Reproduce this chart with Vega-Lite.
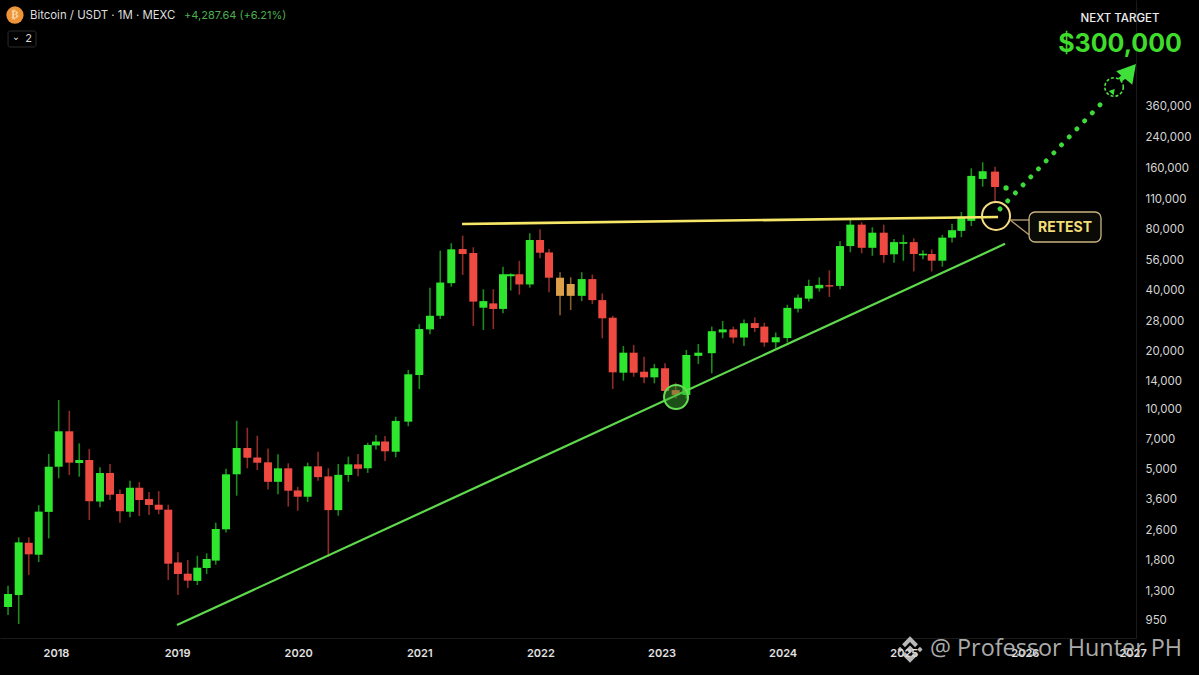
{
  "$schema": "https://vega.github.io/schema/vega-lite/v6.json",
  "width": 1136,
  "height": 638,
  "padding": {"left": 0, "top": 0, "right": 63, "bottom": 37},
  "autosize": "none",
  "background": "#000000",
  "view": {"stroke": null},
  "config": {"text": {"font": "Inter"}, "axis": {"labelFont": "Inter"}},
  "datasets": {
    "candles": [
      {"t":2017.604,"o":1083,"h":1361,"l":992,"c":1245,"dir":"up"},
      {"t":2017.692,"o":1231,"h":2347,"l":900,"c":2207,"dir":"up"},
      {"t":2017.775,"o":2196,"h":2347,"l":1522,"c":1906,"dir":"down"},
      {"t":2017.857,"o":1897,"h":3339,"l":1742,"c":3120,"dir":"up"},
      {"t":2017.940,"o":3112,"h":5855,"l":2318,"c":5073,"dir":"up"},
      {"t":2018.022,"o":5073,"h":11000,"l":4467,"c":7581,"dir":"up"},
      {"t":2018.110,"o":7581,"h":9678,"l":4630,"c":5309,"dir":"down"},
      {"t":2018.192,"o":5290,"h":6597,"l":4544,"c":5470,"dir":"up"},
      {"t":2018.275,"o":5470,"h":6190,"l":2860,"c":3481,"dir":"down"},
      {"t":2018.363,"o":3470,"h":5040,"l":3268,"c":4733,"dir":"up"},
      {"t":2018.446,"o":4733,"h":5230,"l":3526,"c":3732,"dir":"down"},
      {"t":2018.528,"o":3763,"h":3956,"l":2777,"c":3133,"dir":"down"},
      {"t":2018.611,"o":3120,"h":4349,"l":2941,"c":4028,"dir":"up"},
      {"t":2018.688,"o":4028,"h":4284,"l":2980,"c":3526,"dir":"down"},
      {"t":2018.768,"o":3560,"h":3845,"l":3010,"c":3346,"dir":"down"},
      {"t":2018.848,"o":3354,"h":3884,"l":3034,"c":3185,"dir":"down"},
      {"t":2018.927,"o":3185,"h":3354,"l":1444,"c":1714,"dir":"down"},
      {"t":2019.007,"o":1736,"h":1953,"l":1231,"c":1538,"dir":"down"},
      {"t":2019.088,"o":1543,"h":1780,"l":1327,"c":1434,"dir":"down"},
      {"t":2019.167,"o":1430,"h":1874,"l":1370,"c":1643,"dir":"up"},
      {"t":2019.244,"o":1638,"h":1930,"l":1538,"c":1800,"dir":"up"},
      {"t":2019.319,"o":1770,"h":2777,"l":1695,"c":2600,"dir":"up"},
      {"t":2019.404,"o":2590,"h":4960,"l":2494,"c":4666,"dir":"up"},
      {"t":2019.492,"o":4666,"h":8596,"l":3692,"c":6260,"dir":"up"},
      {"t":2019.580,"o":6260,"h":7910,"l":4983,"c":5610,"dir":"down"},
      {"t":2019.662,"o":5630,"h":7190,"l":4890,"c":5309,"dir":"down"},
      {"t":2019.751,"o":5330,"h":6230,"l":3956,"c":4298,"dir":"down"},
      {"t":2019.833,"o":4298,"h":5830,"l":3750,"c":4983,"dir":"up"},
      {"t":2019.918,"o":4983,"h":5270,"l":3290,"c":3899,"dir":"down"},
      {"t":2019.996,"o":3910,"h":4070,"l":3150,"c":3650,"dir":"down"},
      {"t":2020.078,"o":3650,"h":5309,"l":3450,"c":5095,"dir":"up"},
      {"t":2020.164,"o":5095,"h":6000,"l":4349,"c":4525,"dir":"down"},
      {"t":2020.249,"o":4560,"h":4983,"l":1850,"c":3170,"dir":"down"},
      {"t":2020.331,"o":3170,"h":5230,"l":2990,"c":4640,"dir":"up"},
      {"t":2020.414,"o":4630,"h":5680,"l":4298,"c":5210,"dir":"up"},
      {"t":2020.494,"o":5210,"h":5855,"l":4570,"c":4960,"dir":"down"},
      {"t":2020.574,"o":4983,"h":6640,"l":4740,"c":6470,"dir":"up"},
      {"t":2020.642,"o":6440,"h":7250,"l":6160,"c":6730,"dir":"up"},
      {"t":2020.717,"o":6730,"h":7170,"l":5410,"c":6030,"dir":"down"},
      {"t":2020.805,"o":6000,"h":9015,"l":5640,"c":8575,"dir":"up"},
      {"t":2020.909,"o":8500,"h":15780,"l":8050,"c":14980,"dir":"up"},
      {"t":2021.000,"o":14850,"h":26700,"l":12570,"c":25300,"dir":"up"},
      {"t":2021.088,"o":25200,"h":40600,"l":23860,"c":29400,"dir":"up"},
      {"t":2021.173,"o":29400,"h":61600,"l":28320,"c":43000,"dir":"up"},
      {"t":2021.264,"o":42700,"h":67100,"l":41030,"c":62600,"dir":"up"},
      {"t":2021.358,"o":62800,"h":73200,"l":46840,"c":59300,"dir":"down"},
      {"t":2021.446,"o":60000,"h":64100,"l":26200,"c":34600,"dir":"down"},
      {"t":2021.529,"o":32260,"h":39900,"l":25040,"c":34800,"dir":"up"},
      {"t":2021.611,"o":33900,"h":39900,"l":25300,"c":31800,"dir":"down"},
      {"t":2021.691,"o":31800,"h":51400,"l":30260,"c":47200,"dir":"up"},
      {"t":2021.755,"o":46100,"h":47700,"l":39300,"c":47200,"dir":"up"},
      {"t":2021.826,"o":47200,"h":54800,"l":37500,"c":42100,"dir":"down"},
      {"t":2021.912,"o":42100,"h":75300,"l":40600,"c":69700,"dir":"up"},
      {"t":2021.997,"o":69700,"h":78900,"l":56450,"c":60200,"dir":"down"},
      {"t":2022.071,"o":60400,"h":62800,"l":38500,"c":45400,"dir":"down"},
      {"t":2022.162,"o":45400,"h":48300,"l":29600,"c":36970,"dir":"mixed"},
      {"t":2022.250,"o":42300,"h":45600,"l":31400,"c":36970,"dir":"mixed"},
      {"t":2022.341,"o":36970,"h":48300,"l":34800,"c":44700,"dir":"up"},
      {"t":2022.429,"o":44700,"h":47000,"l":33600,"c":35200,"dir":"down"},
      {"t":2022.511,"o":35200,"h":38000,"l":22800,"c":28550,"dir":"down"},
      {"t":2022.597,"o":28750,"h":29400,"l":12570,"c":15340,"dir":"down"},
      {"t":2022.685,"o":15270,"h":20920,"l":13880,"c":19370,"dir":"up"},
      {"t":2022.770,"o":19370,"h":21150,"l":14560,"c":15270,"dir":"down"},
      {"t":2022.856,"o":15450,"h":18470,"l":13450,"c":14450,"dir":"down"},
      {"t":2022.941,"o":14450,"h":16950,"l":13450,"c":16100,"dir":"up"},
      {"t":2023.029,"o":16100,"h":17100,"l":11900,"c":12270,"dir":"down"},
      {"t":2023.117,"o":12400,"h":13550,"l":11200,"c":11700,"dir":"down"},
      {"t":2023.205,"o":11700,"h":20000,"l":11200,"c":18850,"dir":"up"},
      {"t":2023.304,"o":18650,"h":21400,"l":16950,"c":19370,"dir":"up"},
      {"t":2023.415,"o":19250,"h":26000,"l":15150,"c":24700,"dir":"up"},
      {"t":2023.505,"o":24370,"h":27700,"l":22800,"c":25200,"dir":"up"},
      {"t":2023.593,"o":25200,"h":26000,"l":21550,"c":23000,"dir":"down"},
      {"t":2023.681,"o":23000,"h":28200,"l":20920,"c":27000,"dir":"up"},
      {"t":2023.770,"o":27050,"h":28850,"l":24450,"c":25600,"dir":"down"},
      {"t":2023.849,"o":26000,"h":27150,"l":20750,"c":21750,"dir":"down"},
      {"t":2023.943,"o":21800,"h":24350,"l":20400,"c":23070,"dir":"up"},
      {"t":2024.039,"o":22870,"h":33350,"l":21750,"c":32200,"dir":"up"},
      {"t":2024.127,"o":31900,"h":37500,"l":30500,"c":36200,"dir":"up"},
      {"t":2024.216,"o":35800,"h":44400,"l":34600,"c":41400,"dir":"up"},
      {"t":2024.303,"o":40300,"h":45600,"l":38800,"c":41900,"dir":"up"},
      {"t":2024.386,"o":41750,"h":49300,"l":36500,"c":41100,"dir":"down"},
      {"t":2024.474,"o":41400,"h":68900,"l":39900,"c":65000,"dir":"up"},
      {"t":2024.559,"o":65000,"h":87800,"l":60500,"c":82900,"dir":"up"},
      {"t":2024.653,"o":82900,"h":85000,"l":59800,"c":63700,"dir":"down"},
      {"t":2024.741,"o":63700,"h":80600,"l":58100,"c":75800,"dir":"up"},
      {"t":2024.835,"o":75800,"h":82900,"l":53700,"c":58600,"dir":"down"},
      {"t":2024.920,"o":59100,"h":70500,"l":53700,"c":68000,"dir":"up"},
      {"t":2024.997,"o":66700,"h":74000,"l":54900,"c":68000,"dir":"up"},
      {"t":2025.083,"o":68000,"h":71100,"l":48700,"c":59300,"dir":"down"},
      {"t":2025.159,"o":58400,"h":62000,"l":55800,"c":59500,"dir":"up"},
      {"t":2025.231,"o":59300,"h":62500,"l":48700,"c":54950,"dir":"down"},
      {"t":2025.319,"o":54950,"h":74000,"l":51400,"c":71600,"dir":"up"},
      {"t":2025.399,"o":71600,"h":83600,"l":67800,"c":78000,"dir":"up"},
      {"t":2025.476,"o":77400,"h":94800,"l":72000,"c":89300,"dir":"up"},
      {"t":2025.558,"o":86300,"h":157500,"l":81700,"c":143700,"dir":"up"},
      {"t":2025.652,"o":138500,"h":170300,"l":126200,"c":152000,"dir":"up"},
      {"t":2025.754,"o":151300,"h":160500,"l":105700,"c":125600,"dir":"down"}
    ]
  },
  "encoding": {
    "x": {
      "field": "t",
      "type": "quantitative",
      "scale": {"domain": [2017.5376, 2026.918], "nice": false, "zero": false, "padding": 0},
      "axis": {
        "title": null,
        "grid": false,
        "ticks": false,
        "values": [2018, 2019, 2020, 2021, 2022, 2023, 2024, 2025, 2026, 2026.89],
        "labelExpr": "format(ceil(datum.value), 'd')",
        "labelColor": "#e2e2e2",
        "labelFontSize": 11,
        "labelFontWeight": 600,
        "labelPadding": 9,
        "labelOverlap": false,
        "labelFlush": false,
        "labelBound": false,
        "domainColor": "#1a1a1a"
      }
    },
    "y": {
      "field": "p",
      "type": "quantitative",
      "scale": {
        "type": "log",
        "nice": false,
        "zero": false,
        "domain": [775, 950, 1300, 1800, 2600, 3600, 5000, 7000, 10000, 14000, 20000, 28000, 40000, 56000, 80000, 110000, 160000, 240000, 360000, 1200000],
        "range": [638, 619, 590, 559, 529, 498, 468, 438, 408, 380, 350, 320, 289, 259, 228, 198, 167, 136, 105, 0]
      },
      "axis": {
        "title": null,
        "orient": "right",
        "grid": false,
        "ticks": false,
        "values": [950, 1300, 1800, 2600, 3600, 5000, 7000, 10000, 14000, 20000, 28000, 40000, 56000, 80000, 110000, 160000, 240000, 360000],
        "format": ",d",
        "labelColor": "#d6d6d6",
        "labelFontSize": 11.5,
        "labelPadding": 9,
        "labelOffset": 1,
        "labelOverlap": false,
        "labelBound": false,
        "domainColor": "#1a1a1a"
      }
    }
  },
  "layer": [
    {
      "data": {"name": "candles"},
      "mark": {"type": "rule", "strokeWidth": 1.6, "opacity": 0.6},
      "encoding": {
        "y": {"field": "l", "type": "quantitative"},
        "y2": {"field": "h"},
        "color": {
          "field": "dir",
          "type": "nominal",
          "legend": null,
          "scale": {"domain": ["up", "down", "mixed"], "range": ["#2fe62f", "#ef4a42", "#dca04a"]}
        }
      }
    },
    {
      "data": {"name": "candles"},
      "mark": {"type": "bar", "size": 8},
      "encoding": {
        "y": {"field": "o", "type": "quantitative"},
        "y2": {"field": "c"},
        "color": {"field": "dir", "type": "nominal", "legend": null}
      }
    },
    {
      "data": {"values": [{"t": 2018.999, "p": 890}, {"t": 2025.837, "p": 66650}]},
      "mark": {"type": "line", "color": "#5fd94c", "strokeWidth": 2.2},
      "encoding": {}
    },
    {
      "data": {"values": [{"t": 2021.353, "p": 83450}, {"t": 2025.779, "p": 89900}]},
      "mark": {"type": "line", "color": "#f6e768", "strokeWidth": 2.6},
      "encoding": {}
    },
    {
      "data": {"values": [{"t": 2023.12, "p": 11410}]},
      "mark": {"type": "point", "shape": "circle", "filled": true, "size": 576, "fill": "#3fae35", "fillOpacity": 0.45, "stroke": "#66dd55", "strokeWidth": 2, "opacity": 1},
      "encoding": {}
    },
    {
      "data": {"values": [{"t": 2025.762, "p": 90900}]},
      "mark": {"type": "point", "shape": "circle", "size": 784, "stroke": "#f5dc84", "strokeWidth": 2, "opacity": 1},
      "encoding": {}
    },
    {
      "data": {"values": [{"t": 2025.795, "p": 97900}, {"t": 2026.635, "p": 368000}]},
      "mark": {"type": "line", "color": "#3fd93a", "strokeWidth": 4.8, "strokeCap": "round", "strokeDash": [0.1, 11]},
      "encoding": {}
    },
    {
      "data": {"values": [{"t": 2025.845, "p": 124200}]},
      "mark": {"type": "point", "shape": "circle", "filled": true, "size": 28, "color": "#3fd93a", "opacity": 1},
      "encoding": {}
    },
    {
      "data": {"values": [{"t": 2026.737, "p": 442500}]},
      "mark": {"type": "point", "shape": "circle", "size": 340, "stroke": "#4fdd45", "strokeWidth": 1.6, "strokeDash": [3, 2], "opacity": 1},
      "encoding": {}
    },
    {
      "data": {"values": [{"t": 2026.728, "p": 422600}]},
      "mark": {"type": "point", "shape": "triangle-up", "filled": true, "size": 40, "angle": 40, "color": "#3fe03a", "opacity": 1},
      "encoding": {}
    },
    {
      "data": {"values": [{"t": 2026.786, "p": 479600}, {"t": 2026.852, "p": 519600}]},
      "mark": {"type": "line", "color": "#3fe03a", "strokeWidth": 5},
      "encoding": {}
    },
    {
      "data": {"values": [{"t": 2026.869, "p": 532000}]},
      "mark": {"type": "point", "shape": "triangle-up", "filled": true, "size": 441, "angle": 40, "color": "#3fe03a", "opacity": 1},
      "encoding": {}
    },
    {
      "data": {"values": [{"t": 2025.878, "p": 87100, "leg": "a"}, {"t": 2026.035, "p": 87100, "leg": "a"}, {"t": 2025.878, "p": 87100, "leg": "b"}, {"t": 2026.035, "p": 74000, "leg": "b"}]},
      "mark": {"type": "line", "color": "#b39a72", "strokeWidth": 1.4},
      "encoding": {"detail": {"field": "leg"}}
    },
    {
      "data": {"values": [{"t": 2026.035, "t2": 2026.629, "p": 94800, "p2": 68100}]},
      "mark": {"type": "rect", "fill": "#0a0a06", "stroke": "#c9b482", "strokeWidth": 1.3, "cornerRadius": 6},
      "encoding": {"x2": {"field": "t2"}, "y2": {"field": "p2"}}
    },
    {
      "data": {"values": [{"t": 2026.332, "p": 80000, "label": "RETEST"}]},
      "mark": {"type": "text", "font": "Inter", "fontSize": 14, "fontWeight": 700, "color": "#f4de78", "align": "center", "baseline": "middle"},
      "encoding": {"text": {"field": "label"}}
    },
    {
      "data": {"values": [{"t": 2026.786, "p": 987000, "label": "NEXT TARGET"}]},
      "mark": {"type": "text", "font": "Inter", "fontSize": 11.5, "fontWeight": 500, "color": "#eeeeee", "align": "center", "baseline": "middle", "dy": 2},
      "encoding": {"text": {"field": "label"}}
    },
    {
      "data": {"values": [{"t": 2026.786, "p": 741000, "label": "$300,000"}]},
      "mark": {"type": "text", "font": "Inter", "fontSize": 25, "fontWeight": 700, "color": "#3fdc2c", "align": "center", "baseline": "middle", "dy": 2},
      "encoding": {"text": {"field": "label"}}
    },
    {
      "data": {"values": [{"t": 2017.661, "p": 1010000}]},
      "mark": {"type": "point", "shape": "circle", "filled": true, "size": 300, "color": "#ee9338", "opacity": 1},
      "encoding": {}
    },
    {
      "data": {"values": [{"t": 2017.661, "p": 1010000, "label": "₿"}]},
      "mark": {"type": "text", "font": "DejaVu Sans", "fontSize": 11, "fontWeight": 700, "color": "#f8d8a8", "align": "center", "baseline": "middle"},
      "encoding": {"text": {"field": "label"}}
    },
    {
      "data": {"values": [{"t": 2017.785, "p": 1010000, "label": "Bitcoin / USDT · 1M · MEXC"}]},
      "mark": {"type": "text", "font": "Inter", "fontSize": 11.4, "color": "#dedede", "align": "left", "baseline": "middle", "dy": 1},
      "encoding": {"text": {"field": "label"}}
    },
    {
      "data": {"values": [{"t": 2019.057, "p": 1010000, "label": "+4,287.64 (+6.21%)"}]},
      "mark": {"type": "text", "font": "Inter", "fontSize": 11, "color": "#4caf50", "align": "left", "baseline": "middle", "dy": 1},
      "encoding": {"text": {"field": "label"}}
    },
    {
      "data": {"values": [{"t": 2017.604, "t2": 2017.835, "p": 841000, "p2": 700000}]},
      "mark": {"type": "rect", "fill": "#000000", "stroke": "#2c2c2c", "strokeWidth": 1, "cornerRadius": 2},
      "encoding": {"x2": {"field": "t2"}, "y2": {"field": "p2"}}
    },
    {
      "data": {"values": [{"t": 2017.67, "p": 767000, "label": "⌄"}]},
      "mark": {"type": "text", "font": "DejaVu Sans", "fontSize": 10, "color": "#d8d8d8", "align": "center", "baseline": "middle", "dy": -2},
      "encoding": {"text": {"field": "label"}}
    },
    {
      "data": {"values": [{"t": 2017.773, "p": 767000, "label": "2"}]},
      "mark": {"type": "text", "font": "Inter", "fontSize": 11, "color": "#d8d8d8", "align": "center", "baseline": "middle"},
      "encoding": {"text": {"field": "label"}}
    },
    {
      "data": {"values": [{"t": 2025.052, "p": 685}]},
      "mark": {
        "type": "point",
        "filled": true,
        "size": 700,
        "color": "#d8d8d8",
        "opacity": 0.85,
        "shape": "M0,-1 L0.6,-0.4 L0.38,-0.18 L0,-0.56 L-0.38,-0.18 L-0.6,-0.4 Z M0,1 L0.6,0.4 L0.38,0.18 L0,0.56 L-0.38,0.18 L-0.6,0.4 Z M0,-0.3 L0.3,0 L0,0.3 L-0.3,0 Z M-0.75,-0.2 L-0.55,0 L-0.75,0.2 L-0.95,0 Z M0.75,-0.2 L0.95,0 L0.75,0.2 L0.55,0 Z"
      },
      "encoding": {}
    },
    {
      "data": {"values": [{"t": 2025.217, "p": 689, "label": "@ Professor Hunter PH"}]},
      "mark": {"type": "text", "font": "Open Sans", "fontSize": 23.4, "color": "#c8c8c8", "opacity": 0.85, "align": "left", "baseline": "middle"},
      "encoding": {"text": {"field": "label"}}
    }
  ]
}
